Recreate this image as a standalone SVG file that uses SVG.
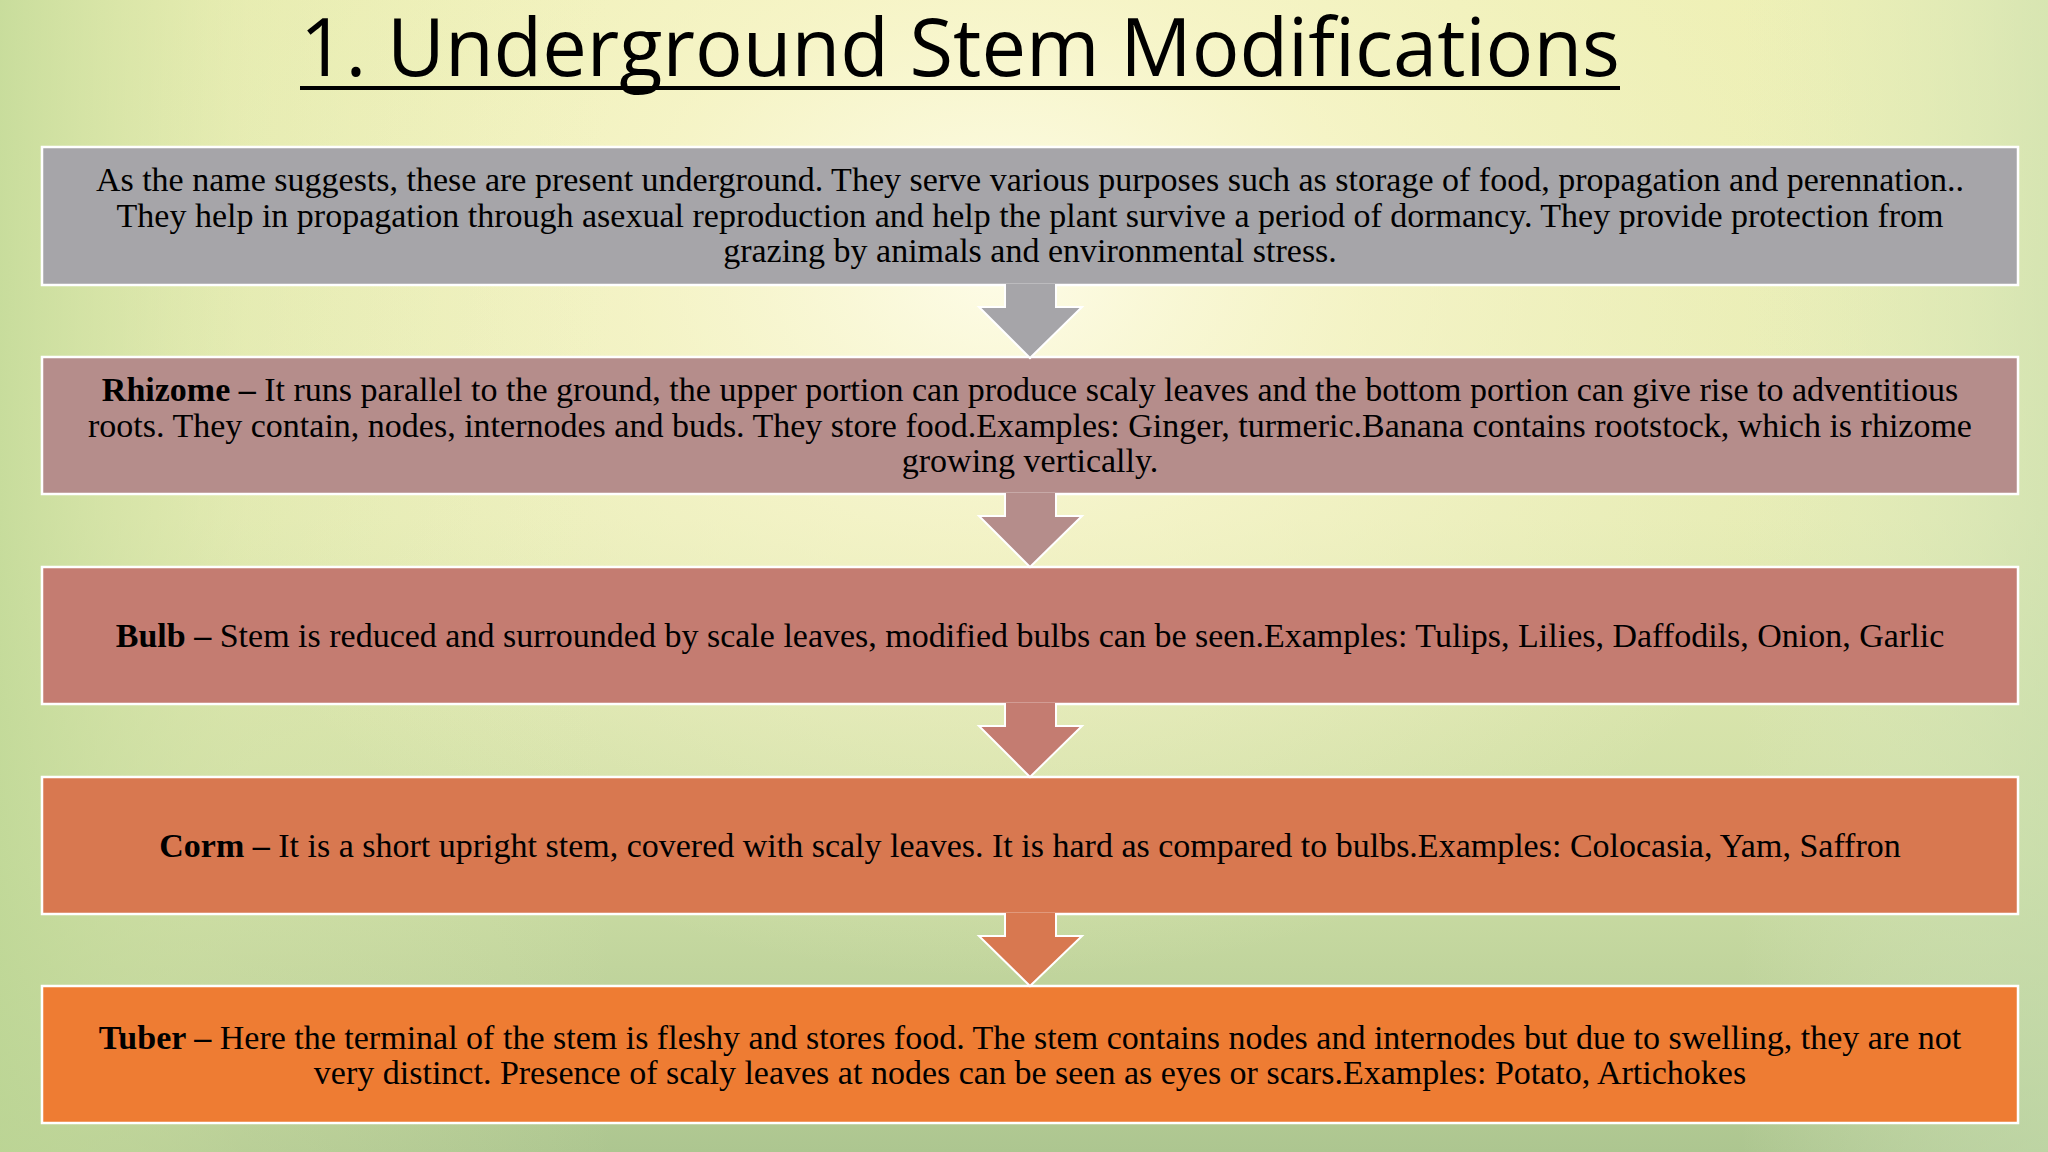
<svg xmlns="http://www.w3.org/2000/svg" width="2048" height="1152" viewBox="0 0 2048 1152">
  <defs>
    <linearGradient id="bgV" x1="0" y1="0" x2="0" y2="1">
      <stop offset="0" stop-color="#EEF0B4"/>
      <stop offset="0.45" stop-color="#E6ECB4"/>
      <stop offset="0.75" stop-color="#CCDDA4"/>
      <stop offset="1" stop-color="#ADC690"/>
    </linearGradient>
    <radialGradient id="glow" cx="1000" cy="260" r="900" gradientUnits="userSpaceOnUse" gradientTransform="translate(1000 260) scale(1 0.8) translate(-1000 -260)">
      <stop offset="0" stop-color="#FFFDEB" stop-opacity="0.95"/>
      <stop offset="0.4" stop-color="#FBF7D2" stop-opacity="0.6"/>
      <stop offset="1" stop-color="#F4F2C8" stop-opacity="0"/>
    </radialGradient>
    <linearGradient id="leftG" x1="0" y1="0" x2="1" y2="0">
      <stop offset="0" stop-color="#BFD896" stop-opacity="0.8"/>
      <stop offset="0.12" stop-color="#D6E4A8" stop-opacity="0.3"/>
      <stop offset="0.3" stop-color="#E8EEB8" stop-opacity="0"/>
      <stop offset="0.85" stop-color="#E0ECC8" stop-opacity="0"/>
      <stop offset="1" stop-color="#C8DEB0" stop-opacity="0.6"/>
    </linearGradient>
    <style>
      .box { stroke: #FFFFFF; stroke-width: 2.5; }
      .arrow { stroke: #FFFFFF; stroke-width: 2; stroke-linejoin: miter; }
      .body { font-family: "Liberation Serif", "Times New Roman", serif; font-size: 34px; fill: #000000; text-anchor: middle; }
      .b { font-weight: bold; }
      .title { font-family: "Open Sans", "Noto Sans", sans-serif; font-size: 80px; fill: #000000; }
    </style>
  </defs>

  <g id="background">
    <rect x="0" y="0" width="2048" height="1152" fill="url(#bgV)"/>
    <rect x="0" y="0" width="2048" height="1152" fill="url(#glow)"/>
    <rect x="0" y="0" width="2048" height="1152" fill="url(#leftG)"/>
  </g>

  <g id="title">
    <text class="title" x="300" y="76" textLength="1320" lengthAdjust="spacingAndGlyphs">1. Underground Stem Modifications</text>
    <rect x="300" y="86" width="1320" height="4" fill="#000000"/>
  </g>

  <g id="node-intro">
    <rect class="box" x="42" y="147" width="1976" height="138" fill="#A6A5A9"/>
    <text class="body" x="1030" y="191">As the name suggests, these are present underground. They serve various purposes such as storage of food, propagation and perennation..</text>
    <text class="body" x="1030" y="226.5">They help in propagation through asexual reproduction and help the plant survive a period of dormancy. They provide protection from</text>
    <text class="body" x="1030" y="262">grazing by animals and environmental stress.</text>
  </g>

  <g id="node-rhizome">
    <rect class="box" x="42" y="357" width="1976" height="137" fill="#B58D8B"/>
    <text class="body" x="1030" y="401"><tspan class="b">Rhizome –</tspan> It runs parallel to the ground, the upper portion can produce scaly leaves and the bottom portion can give rise to adventitious</text>
    <text class="body" x="1030" y="436.5">roots. They contain, nodes, internodes and buds. They store food.Examples: Ginger, turmeric.Banana contains rootstock, which is rhizome</text>
    <text class="body" x="1030" y="472">growing vertically.</text>
  </g>

  <g id="node-bulb">
    <rect class="box" x="42" y="567" width="1976" height="137" fill="#C47C71"/>
    <text class="body" x="1030" y="647"><tspan class="b">Bulb –</tspan> Stem is reduced and surrounded by scale leaves, modified bulbs can be seen.Examples: Tulips, Lilies, Daffodils, Onion, Garlic</text>
  </g>

  <g id="node-corm">
    <rect class="box" x="42" y="777" width="1976" height="137" fill="#D87850"/>
    <text class="body" x="1030" y="857"><tspan class="b">Corm –</tspan> It is a short upright stem, covered with scaly leaves. It is hard as compared to bulbs.Examples: Colocasia, Yam, Saffron</text>
  </g>

  <g id="node-tuber">
    <rect class="box" x="42" y="986" width="1976" height="137" fill="#EE7C33"/>
    <text class="body" x="1030" y="1049"><tspan class="b">Tuber –</tspan> Here the terminal of the stem is fleshy and stores food. The stem contains nodes and internodes but due to swelling, they are not</text>
    <text class="body" x="1030" y="1084">very distinct. Presence of scaly leaves at nodes can be seen as eyes or scars.Examples: Potato, Artichokes</text>
  </g>

  <g id="connectors">
    <path class="arrow" fill="#A6A5A9" d="M1005,284 V307 H979 L1030,358 L1082,307 H1056 V284"/>
    <path class="arrow" fill="#B58D8B" d="M1005,493 V516 H979 L1030,567 L1082,516 H1056 V493"/>
    <path class="arrow" fill="#C47C71" d="M1005,703 V726 H979 L1030,777 L1082,726 H1056 V703"/>
    <path class="arrow" fill="#D87850" d="M1005,913 V936 H979 L1030,986 L1082,936 H1056 V913"/>
  </g>
</svg>
